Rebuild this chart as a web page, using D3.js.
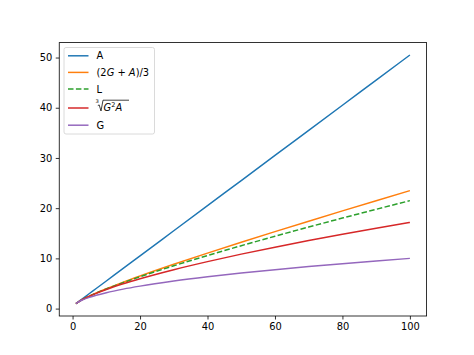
<!DOCTYPE html>
<html><head><meta charset="utf-8">
<script src="https://cdn.jsdelivr.net/npm/d3@7"></script>
<style>body{margin:0;background:#fff}svg{display:block}text{font-family:"DejaVu Sans",sans-serif}</style>
</head><body>
<svg id="c" width="474" height="355"></svg>
<script>
const xs = [1,2,3,5,7,10,15,20,30,40,50,60,70,80,90,100];
const seriesA = [1,1.5,2,3,4,5.5,8,10.5,15.5,20.5,25.5,30.5,35.5,40.5,45.5,50.5];
const seriesM = [1,1.4428,1.8214,2.4907,3.0972,3.9415,5.2487,6.4814,8.8182,11.0497,13.214,15.3306,17.4111,19.4628,21.4912,23.5];
const seriesL = [1,1.4427,1.8205,2.4853,3.0834,3.9087,5.1697,6.3424,8.5264,10.5723,12.5255,14.4101,16.241,18.0283,19.7787,21.4978];
const seriesC = [1,1.4422,1.8171,2.4662,3.0366,3.803,4.9324,5.9439,7.7472,9.3599,10.8436,12.2306,13.5453,14.7973,15.9961,17.1563];
const seriesG = [1,1.4142,1.7321,2.2361,2.6458,3.1623,3.873,4.4721,5.4772,6.3246,7.0711,7.746,8.3666,8.9443,9.4868,10];
const xTicks = [0,20,40,60,80,100];
const yTicks = [0,10,20,30,40,50];
const colors = ["#1f77b4","#ff7f0e","#2ca02c","#d62728","#9467bd"];

const svg = d3.select("#c");
const L = 59.25, R = 426.6, T = 42.6, B = 316;
const x = d3.scaleLinear().domain([-3.95,104.95]).range([L,R]);
const y = d3.scaleLinear().domain([-1.475,52.975]).range([B,T]);

const series = [
  {v:seriesA, c:colors[0], dash:null},
  {v:seriesM, c:colors[1], dash:null},
  {v:seriesL, c:colors[2], dash:"5.5,2.4"},
  {v:seriesC, c:colors[3], dash:null},
  {v:seriesG, c:colors[4], dash:null}
];
const line = d3.line().x(d=>x(d[0])).y(d=>y(d[1])).curve(d3.curveMonotoneX);
const g = svg.append("g");
g.append("defs").append("clipPath").attr("id","clip").append("rect")
  .attr("x",L).attr("y",T).attr("width",R-L).attr("height",B-T);
series.forEach(s=>{
  g.append("path").attr("d", line(xs.map((v,i)=>[v,s.v[i]])))
   .attr("fill","none").attr("stroke",s.c).attr("stroke-width",1.48)
   .attr("stroke-dasharray",s.dash).attr("clip-path","url(#clip)");
});

const fs = 9.9;
const xAxis = svg.append("g").attr("transform",`translate(0,${B})`)
  .call(d3.axisBottom(x).tickValues(xTicks).tickSize(3.5).tickPadding(3.5).tickFormat(d3.format("d")));
const yAxis = svg.append("g").attr("transform",`translate(${L},0)`)
  .call(d3.axisLeft(y).tickValues(yTicks).tickSize(3.5).tickPadding(3.5).tickFormat(d3.format("d")));
[xAxis,yAxis].forEach(a=>{
  a.select(".domain").remove();
  a.selectAll("line").attr("stroke","#000").attr("stroke-width",0.8);
  a.selectAll("text").attr("font-size",fs).attr("fill","#000").attr("font-family","DejaVu Sans");
});
svg.append("rect").attr("x",L).attr("y",T).attr("width",R-L).attr("height",B-T)
  .attr("fill","none").attr("stroke","#000").attr("stroke-width",0.8);

// legend
const lg = svg.append("g");
lg.append("rect").attr("x",64).attr("y",47.5).attr("width",90.5).attr("height",86.5)
  .attr("rx",2).attr("fill","#fff").attr("fill-opacity",0.8).attr("stroke","#d0d0d0").attr("stroke-width",0.8);
const rowsY = [55.8,72.4,89,108,125.2];
rowsY.forEach((yy,i)=>{
  lg.append("line").attr("x1",68).attr("x2",88.5).attr("y1",yy).attr("y2",yy)
    .attr("stroke",series[i].c).attr("stroke-width",1.48).attr("stroke-dasharray",series[i].dash);
});
const tx = 96.5;
function txt(yy){ return lg.append("text").attr("x",tx).attr("y",yy+3.6).attr("font-size",fs).attr("fill","#000"); }
txt(rowsY[0]).text("A");
{
  const t = txt(rowsY[1]);
  t.append("tspan").text("(2");
  t.append("tspan").attr("font-style","italic").text("G");
  t.append("tspan").text(" + ");
  t.append("tspan").attr("font-style","italic").text("A");
  t.append("tspan").text(")/3");
}
txt(rowsY[2]).text("L");
{
  const yy = rowsY[3];
  lg.append("text").attr("x",95.6).attr("y",103.2).attr("font-size",5.2).text("3");
  lg.append("path")
    .attr("d",`M97.8,105.6 L99.2,104.9 L101,111 L103,100.2 L129,100.2`)
    .attr("fill","none").attr("stroke","#000").attr("stroke-width",0.75);
  const t = lg.append("text").attr("x",103.6).attr("y",110.6).attr("font-size",fs);
  t.append("tspan").attr("font-style","italic").text("G");
  t.append("tspan").attr("font-size",6.5).attr("dy",-4).text("2");
  t.append("tspan").attr("font-style","italic").attr("dy",4).text("A");
}
{
  const t = txt(rowsY[4]); t.text("G");
}
</script>
</body></html>
